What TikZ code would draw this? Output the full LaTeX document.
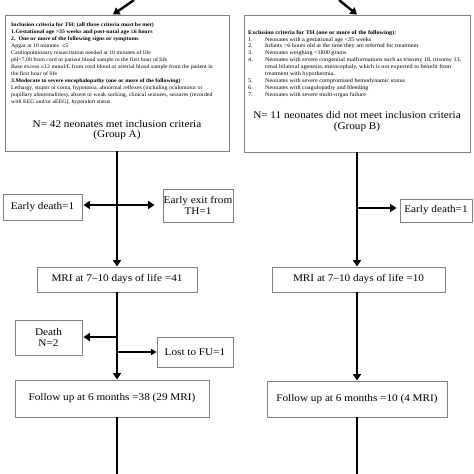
\documentclass[tikz,border=0pt]{standalone}
\usepackage{fontspec}
\setmainfont{Liberation Serif}[FakeStretch=1.1]
\usetikzlibrary{arrows.meta}
\definecolor{boxgray}{gray}{0.5}
\begin{document}
\begin{tikzpicture}[x=1pt,y=-1pt,
  box/.style={draw=boxgray, line width=0.9pt, inner sep=0pt, align=center, fill=white,
              font=\fontsize{10.2}{11.5}\selectfont},
  arr/.style={line width=2.4pt, -{Triangle[length=6.5pt,width=8pt]}},
  thinarr/.style={line width=1.5pt, -{Triangle[length=5.5pt,width=6pt]}},
  ln/.style={line width=2.4pt},
  crit/.style={inner sep=0pt, align=left, anchor=north west},
  big/.style={inner sep=0pt, align=center, font=\fontsize{10.2}{10.5}\selectfont}]
\useasboundingbox (0,0) rectangle (474,474);

% ---- main boxes
\node[box, minimum width=224pt, minimum height=136pt] (boxA) at (117,83) {};
\node[box, minimum width=226pt, minimum height=137pt] (boxB) at (357,83.5) {};

\node[crit, font=\fontsize{5.35}{7}\selectfont] (critA) at (11,22.5) {%
\textbf{Inclusion criteria for TH: (all three criteria must be met)}\\
\textbf{1.Gestational age >35 weeks and post-natal age ≤6 hours}\\
\textbf{2.\ \ One or more of the following signs or symptoms}\\
Apgar at 10 minutes\ \ ≤5\\
Cardiopulmonary resuscitation needed at 10 minutes of life\\
pH<7.00 from cord or patient blood sample in the first hour of life\\
Base excess ≤12 mmol/L from cord blood or arterial blood sample from the patient in\\
the first hour of life\\
\textbf{3.Moderate to severe encephalopathy (one or more of the following)}\\
Lethargy, stupor or coma, hypotonia, abnormal reflexes (including oculomotor or\\
pupillary abnormalities), absent or weak sucking, clinical seizures, seizures (recorded\\
with EEG and/or aEEG), hyperalert status};

\node[big] (nA) at (117,130) {N= 42 neonates met inclusion criteria\\(Group A)};

\node[crit, font=\fontsize{5.6}{6.9}\selectfont] (critB) at (248,30) {%
\textbf{Exclusion criteria for TH (one or more of the following):}\\
\makebox[17pt][l]{1.}Neonates with a gestational age <35 weeks\\
\makebox[17pt][l]{2.}Infants >6 hours old at the time they are referred for treatment\\
\makebox[17pt][l]{3.}Neonates weighing <1800 grams\\
\makebox[17pt][l]{4.}Neonates with severe congenital malformations such as trisomy 18, trisomy 13,\\
\makebox[17pt][l]{}renal bilateral agenesis, merocephaly, which is not expected to benefit from\\
\makebox[17pt][l]{}treatment with hypothermia.\\
\makebox[17pt][l]{5.}Neonates with severe compromised hemodynamic status\\
\makebox[17pt][l]{6.}Neonates with coagulopathy and bleeding\\
\makebox[17pt][l]{7.}Neonates with severe multi-organ failure};

\node[big] (nB) at (357,121.5) {N= 11 neonates did not meet inclusion criteria\\(Group B)};

% ---- small boxes
\node[box, minimum width=79pt, minimum height=26pt] (edA) at (42.5,207) {Early death=1};
\node[box, minimum width=70pt, minimum height=33pt] (exitA) at (198,205.5) {Early exit from\\TH=1};
\node[box, minimum width=72pt, minimum height=23pt] (edB) at (436,210.5) {Early death=1};
\node[box, minimum width=160pt, minimum height=25pt] (mriA) at (117,279.5) {MRI at 7–10 days of life =41};
\node[box, minimum width=173pt, minimum height=25pt] (mriB) at (358.5,279.5) {MRI at 7–10 days of life =10};
\node[box, minimum width=67pt, minimum height=35pt] (deathA) at (48.5,337.5) {Death\\N=2};
\node[box, minimum width=76pt, minimum height=30pt] (lostA) at (195,352) {Lost to FU=1};
\node[box, minimum width=194pt, minimum height=37pt] (fuA) at (112,398.5) {Follow up at 6 months =38 (29 MRI)};
\node[box, minimum width=180pt, minimum height=36pt] (fuB) at (357,399) {Follow up at 6 months =10 (4 MRI)};

% ---- coordinates
\coordinate (topA) at (134,0);
\coordinate (topB) at (339,0);
\coordinate (jA1) at (117,205);
\coordinate (jA2) at (117,337);
\coordinate (jA3) at (117,352);
\coordinate (jB1) at (357,208);
\coordinate (endA) at (117,474);
\coordinate (endB) at (357,474);

% ---- connectors
\draw[arr] (topA) -- ([xshift=-4pt]boxA.north);
\draw[arr] (topB) -- (boxB.north);

\draw[arr] (boxA.south) -- (boxA.south |- mriA.north);
\draw[line width=2.4pt, {Triangle[length=6.5pt,width=8pt]}-{Triangle[length=6.5pt,width=8pt]}]
  ([xshift=1pt]jA1 -| edA.east) -- ([xshift=-8pt]jA1 -| exitA.west);

\draw[arr] (boxB.south -| jB1) -- (jB1 |- mriB.north);
\draw[arr] (jB1) -- ([xshift=-3pt]jB1 -| edB.west);

\draw[arr] (mriA.south) -- (mriA.south |- fuA.north);
\draw[arr] (jA2) -- ([xshift=1pt]jA2 -| deathA.east);
\draw[thinarr] (jA3) -- (jA3 -| lostA.west);

\draw[arr] (mriB.south -| jB1) -- (jB1 |- fuB.north);

\draw[ln] (fuA.south -| endA) -- (endA);
\draw[ln] (fuB.south -| endB) -- (endB);
\end{tikzpicture}
\end{document}
